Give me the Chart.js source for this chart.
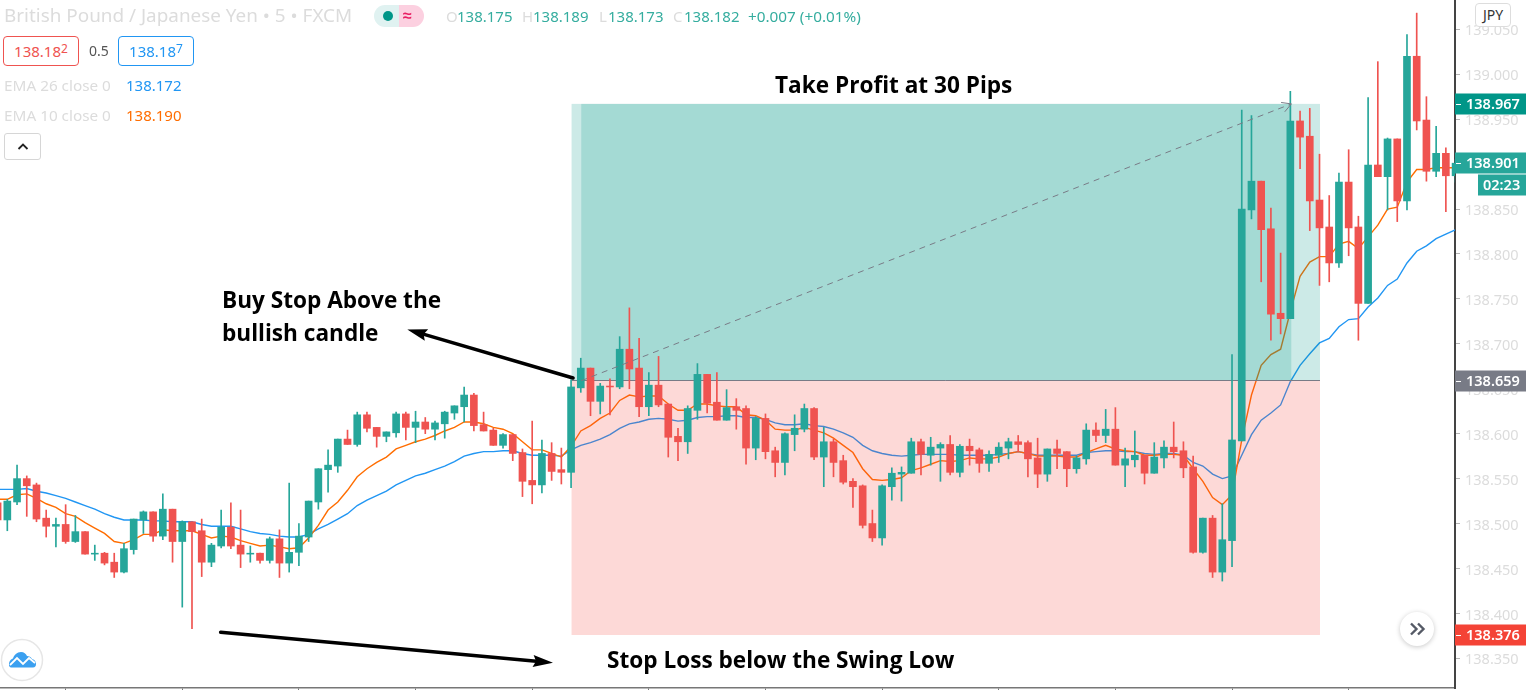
<!DOCTYPE html>
<html>
<head>
<meta charset="utf-8">
<script src="https://cdn.jsdelivr.net/npm/chart.js@4/dist/chart.umd.js"></script>
<style>
html,body{margin:0;padding:0;background:#fff;width:1526px;height:690px;overflow:hidden}
#wrap{position:relative;width:1526px;height:690px;font-family:"Noto Sans",sans-serif}
canvas{position:absolute;left:0;top:0}
.t{position:absolute;white-space:nowrap;line-height:1}
.box{position:absolute;box-sizing:border-box;background:#fff;border:1px solid;border-radius:4px;text-align:center;font-size:15px;height:30px;line-height:28px;width:76px;top:36px}
sup{font-size:12px;line-height:0;vertical-align:4px}
.note{position:absolute;white-space:nowrap;line-height:1;color:#000;font-family:"Open Sans",sans-serif;font-weight:700;font-size:22.6px}
.o{color:#35ad9f;top:9px;font-size:15px}
.l{color:#dcdcdc;top:9px;font-size:15px}
</style>
</head>
<body>
<div id="wrap">
<canvas id="c" width="1526" height="690"></canvas>

<div class="t" style="left:4px;top:6px;font-size:18.9px;color:#dcdcdc">British Pound / Japanese Yen • 5 • FXCM</div>
<div style="position:absolute;left:374px;top:5px;width:25px;height:22px;background:#e0f2f1;border-radius:11px 0 0 11px"></div>
<div style="position:absolute;left:399px;top:5px;width:25px;height:22px;background:#fcd0e0;border-radius:0 11px 11px 0"></div>
<div style="position:absolute;left:383px;top:11px;width:10px;height:10px;border-radius:50%;background:#009688"></div>
<div class="t" style="left:403px;top:7px;font-size:16px;color:#e91e63;font-weight:700">≈</div>
<div class="t l" style="left:446px">O</div><div class="t o" style="left:457px">138.175</div>
<div class="t l" style="left:522px">H</div><div class="t o" style="left:533px">138.189</div>
<div class="t l" style="left:599px">L</div><div class="t o" style="left:608px">138.173</div>
<div class="t l" style="left:673px">C</div><div class="t o" style="left:684px">138.182</div>
<div class="t o" style="left:748px;font-size:15.3px">+0.007 (+0.01%)</div>

<div class="box" style="left:3px;border-color:#ef5350;color:#ef5350">138.18<sup>2</sup></div>
<div class="t" style="left:89px;top:44px;font-size:14px;color:#555">0.5</div>
<div class="box" style="left:118px;border-color:#2196f3;color:#2196f3">138.18<sup>7</sup></div>

<div class="t" style="left:4px;top:78px;font-size:15.3px;color:#dcdcdc">EMA 26 close 0</div>
<div class="t" style="left:126px;top:78px;font-size:15px;color:#2196f3">138.172</div>
<div class="t" style="left:4px;top:108px;font-size:15.3px;color:#dcdcdc">EMA 10 close 0</div>
<div class="t" style="left:126px;top:108px;font-size:15px;color:#ff6d00">138.190</div>
<div style="position:absolute;box-sizing:border-box;left:4px;top:133px;width:37px;height:27px;border:1px solid #d6d6d6;border-radius:3px;background:#fff">
<svg width="35" height="25" style="position:absolute;left:0;top:0"><path d="M13.5 15 L18 10.5 L22.5 15" fill="none" stroke="#222" stroke-width="1.8"/></svg></div>

<div class="note" style="left:775px;top:74px">Take Profit at 30 Pips</div>
<div class="note" style="left:222px;top:289px">Buy Stop Above the</div>
<div class="note" style="left:222px;top:322px">bullish candle</div>
<div class="note" style="left:607px;top:649px">Stop Loss below the Swing Low</div>

<div class="t" style="left:1475px;top:3px;box-sizing:border-box;width:36px;height:24px;border:1px solid #ddd;border-radius:4px;background:#fff;text-align:center;font-size:14px;line-height:22px;color:#333">JPY</div>

<div style="position:absolute;left:1400px;top:612px;width:34px;height:34px;border-radius:50%;background:#fff;box-shadow:0 1px 5px rgba(0,0,0,.22)">
<svg width="34" height="34" style="position:absolute;left:0;top:0"><path d="M11 11.5 L16.5 17 L11 22.5 M18 11.5 L23.5 17 L18 22.5" fill="none" stroke="#555a66" stroke-width="2.4"/></svg></div>

<svg width="44" height="44" style="position:absolute;left:0;top:638px">
<circle cx="22" cy="22" r="20.5" fill="#fff" stroke="#e6e6e6" stroke-width="1.5"/>
<path d="M9 27 C9 23 11 21 13 20.5 C14 17 17 14 21 14 C24 14 26 16 27 18 C29 18 31 19 32 21 C35 21.5 36 24 36 26 C36 28 35 29.5 33 29.5 L11 29.5 C10 29.5 9 28.5 9 27 Z" fill="#3ba0f0"/>
<path d="M10 27 L17 20 L23 26 L29 20 L35 25" fill="none" stroke="#fff" stroke-width="1.8"/>
</svg>
</div>

<script>
const opens=[138.523,138.504,138.524,138.550,138.543,138.506,138.497,138.499,138.480,138.491,
138.466,138.467,138.457,138.446,138.471,138.504,138.513,138.486,138.516,138.480,
138.502,138.492,138.457,138.475,138.496,138.476,138.466,138.467,138.459,138.483,
138.456,138.468,138.485,138.524,138.560,138.564,138.594,138.588,138.621,138.607,
138.597,138.601,138.622,138.607,138.613,138.605,138.611,138.623,138.630,138.643,
138.610,138.604,138.587,138.599,138.579,138.548,138.543,138.578,138.560,138.557,
138.651,138.673,138.636,138.653,138.652,138.694,138.673,138.630,138.654,138.633,
138.597,138.591,138.626,138.666,138.635,138.615,138.630,138.628,138.584,138.617,
138.581,138.568,138.599,138.605,138.628,138.574,138.591,138.570,138.547,138.542,
138.500,138.484,138.541,138.555,138.556,138.591,138.576,138.584,138.588,138.557,
138.586,138.582,138.567,138.576,138.584,138.591,138.590,138.573,138.555,138.583,
138.580,138.561,138.572,138.604,138.598,138.605,138.565,138.571,138.576,138.556,
138.573,138.585,138.581,138.563,138.468,138.506,138.446,138.481,138.592,138.849,
138.881,138.828,138.734,138.728,138.948,138.931,138.860,138.830,138.790,138.880,
138.830,138.745,138.899,138.886,138.928,138.859,139.020,138.949,138.892,138.912,138.887];
const highs=[138.525,138.527,138.565,138.553,138.545,138.515,138.506,138.521,138.509,138.491,
138.476,138.468,138.467,138.478,138.505,138.514,138.513,138.533,138.516,138.503,
138.502,138.505,138.478,138.515,138.523,138.515,138.475,138.467,138.485,138.493,
138.545,138.500,138.525,138.561,138.582,138.594,138.604,138.624,138.624,138.607,
138.602,138.624,138.624,138.625,138.618,138.614,138.625,138.631,138.652,138.645,
138.624,138.606,138.600,138.599,138.583,138.614,138.593,138.590,138.584,138.660,
138.684,138.673,138.656,138.661,138.708,138.740,138.706,138.668,138.686,138.633,
138.606,138.631,138.678,138.666,138.668,138.649,138.639,138.631,138.619,138.622,
138.585,138.601,138.621,138.633,138.629,138.607,138.594,138.576,138.550,138.543,
138.515,138.543,138.562,138.563,138.595,138.594,138.596,138.590,138.598,138.588,
138.594,138.584,138.581,138.590,138.595,138.598,138.592,138.595,138.583,138.593,
138.580,138.575,138.611,138.612,138.627,138.629,138.584,138.603,138.576,138.590,
138.592,138.613,138.591,138.575,138.506,138.509,138.522,138.688,138.960,138.954,
138.881,138.851,138.801,138.981,138.959,138.962,138.911,138.865,138.890,138.916,
138.842,138.974,139.014,138.929,138.928,139.044,139.068,138.975,138.942,138.918,138.905];
const lows=[138.500,138.492,138.521,138.508,138.502,138.485,138.474,138.478,138.479,138.466,
138.459,138.454,138.440,138.445,138.466,138.489,138.480,138.482,138.457,138.407,
138.383,138.441,138.452,138.473,138.472,138.451,138.457,138.456,138.456,138.440,
138.446,138.453,138.480,138.516,138.535,138.557,138.588,138.586,138.602,138.585,
138.591,138.596,138.593,138.590,138.600,138.593,138.595,138.616,138.613,138.603,
138.603,138.587,138.584,138.570,138.530,138.522,138.534,138.548,138.544,138.540,
138.646,138.620,138.622,138.621,138.650,138.650,138.619,138.620,138.630,138.574,
138.570,138.578,138.616,138.623,138.615,138.615,138.605,138.566,138.571,138.572,
138.552,138.554,138.581,138.602,138.571,138.541,138.552,138.544,138.518,138.495,
138.480,138.476,138.526,138.525,138.556,138.554,138.565,138.547,138.554,138.552,
138.565,138.557,138.558,138.568,138.572,138.580,138.552,138.540,138.547,138.561,
138.541,138.556,138.566,138.591,138.590,138.565,138.541,138.563,138.544,138.556,
138.562,138.573,138.551,138.467,138.467,138.440,138.436,138.452,138.592,138.839,
138.769,138.704,138.711,138.728,138.895,138.826,138.765,138.769,138.785,138.798,
138.704,138.745,138.886,138.849,138.836,138.849,138.938,138.881,138.886,138.847,138.880];
const closes=[138.504,138.525,138.550,138.542,138.505,138.497,138.499,138.480,138.491,138.466,
138.467,138.456,138.446,138.472,138.505,138.513,138.486,138.516,138.480,138.502,
138.491,138.457,138.476,138.496,138.475,138.466,138.467,138.459,138.483,138.456,
138.468,138.486,138.525,138.561,138.565,138.594,138.588,138.621,138.606,138.597,
138.602,138.622,138.607,138.613,138.605,138.612,138.624,138.631,138.643,138.609,
138.603,138.587,138.599,138.578,138.547,138.543,138.578,138.558,138.557,138.652,
138.673,138.636,138.653,138.652,138.694,138.672,138.630,138.654,138.632,138.596,
138.591,138.628,138.666,138.634,138.615,138.629,138.626,138.584,138.617,138.580,
138.568,138.600,138.606,138.628,138.574,138.591,138.568,138.546,138.541,138.498,
138.484,138.542,138.556,138.557,138.591,138.577,138.585,138.588,138.557,138.586,
138.581,138.567,138.577,138.585,138.591,138.588,138.572,138.555,138.583,138.578,
138.561,138.573,138.604,138.598,138.605,138.565,138.572,138.576,138.556,138.574,
138.585,138.580,138.562,138.468,138.506,138.446,138.482,138.593,138.850,138.881,
138.827,138.733,138.728,138.948,138.930,138.859,138.829,138.790,138.880,138.829,
138.745,138.899,138.886,138.928,138.859,139.020,138.948,138.892,138.912,138.887,138.901];
const ema26=[138.538,138.538,138.538,138.539,138.536,138.534,138.531,138.528,138.524,138.520,
138.516,138.511,138.507,138.504,138.504,138.504,138.503,138.503,138.502,138.502,
138.502,138.499,138.497,138.497,138.497,138.494,138.491,138.489,138.488,138.486,
138.485,138.485,138.488,138.494,138.499,138.505,138.511,138.520,138.526,138.531,
138.536,138.543,138.548,138.553,138.556,138.560,138.564,138.569,138.575,138.578,
138.580,138.580,138.581,138.581,138.578,138.576,138.576,138.576,138.575,138.582,
138.587,138.590,138.594,138.599,138.606,138.611,138.613,138.616,138.617,138.616,
138.614,138.615,138.618,138.619,138.619,138.620,138.620,138.618,138.618,138.616,
138.612,138.610,138.610,138.611,138.609,138.608,138.605,138.601,138.596,138.587,
138.581,138.578,138.576,138.575,138.576,138.577,138.577,138.577,138.577,138.576,
138.576,138.576,138.576,138.577,138.578,138.580,138.578,138.576,138.576,138.576,
138.576,138.576,138.579,138.580,138.581,138.581,138.580,138.580,138.578,138.577,
138.578,138.578,138.576,138.568,138.564,138.555,138.550,138.553,138.576,138.599,
138.615,138.623,138.632,138.658,138.676,138.689,138.701,138.706,138.719,138.727,
138.728,138.741,138.751,138.765,138.772,138.790,138.803,138.809,138.817,138.822,138.827];
const ema10=[138.527,138.527,138.532,138.533,138.528,138.522,138.518,138.511,138.508,138.501,
138.495,138.489,138.480,138.478,138.482,138.488,138.488,138.493,138.492,138.492,
138.492,138.488,138.484,138.486,138.485,138.481,138.478,138.475,138.476,138.474,
138.472,138.473,138.484,138.498,138.515,138.524,138.537,138.552,138.561,138.568,
138.574,138.583,138.587,138.591,138.594,138.598,138.603,138.607,138.613,138.613,
138.611,138.607,138.605,138.600,138.591,138.582,138.582,138.578,138.574,138.586,
138.603,138.609,138.617,138.623,138.637,138.643,138.641,138.642,138.642,138.633,
138.626,138.626,138.633,138.633,138.631,138.630,138.630,138.621,138.620,138.615,
138.605,138.604,138.604,138.607,138.604,138.601,138.595,138.587,138.579,138.561,
138.549,138.548,138.549,138.551,138.559,138.562,138.566,138.570,138.569,138.570,
138.573,138.572,138.572,138.574,138.578,138.580,138.578,138.575,138.575,138.575,
138.574,138.574,138.579,138.583,138.587,138.583,138.581,138.580,138.576,138.576,
138.577,138.577,138.576,138.561,138.547,138.529,138.521,138.532,138.593,138.643,
138.676,138.688,138.694,138.736,138.775,138.791,138.797,138.797,138.811,138.814,
138.806,138.819,138.832,138.850,138.852,138.880,138.894,138.894,138.896,138.896,138.896];

const priceTicks=[138.35,138.40,138.45,138.50,138.55,138.60,138.65,138.70,138.75,138.80,138.85,138.90,138.95,139.00,139.05];
const hourTicks=[7,19,31,43,55,67,79,91,103,115,127,139];
const tagValues=[138.967,138.901,138.659,138.376];
const tagColors=['#009688','#26a69a','#787b86','#f44336'];
const countdown='02:23';
const entryPrice=138.659, targetPrice=138.967, stopPrice=138.376;
const zoneStart=59.05, zoneInnerStart=60.05, zoneInnerEnd=133.1, zoneEnd=136.05;
const buyArrow=[59.2,138.662,42.15,138.716];
const stopArrow=[22.95,138.379,57.14,138.345];

const GREEN='#26a69a', RED='#ef5350';
const candleIdx=opens.map((_,i)=>i);
const colors=candleIdx.map(i=>closes[i]>=opens[i]?GREEN:RED);

const overlay={
  id:'overlay',
  afterDatasetDraw(chart,args){
    if(args.index!==1) return;
    const {ctx,scales:{x,y}}=chart;
    const x0=x.getPixelForValue(zoneStart),x1=x.getPixelForValue(zoneInnerStart),
          x2=x.getPixelForValue(zoneInnerEnd),x3=x.getPixelForValue(zoneEnd),
          ye=y.getPixelForValue(entryPrice),yt=y.getPixelForValue(targetPrice),ys=y.getPixelForValue(stopPrice);
    ctx.save();
    ctx.fillStyle='rgba(0,150,136,0.2)';
    ctx.fillRect(x0,yt,x3-x0,ye-yt);
    ctx.fillRect(x1,yt,x2-x1,ye-yt);
    ctx.fillStyle='rgba(244,67,54,0.2)';
    ctx.fillRect(x0,ye,x3-x0,ys-ye);
    ctx.strokeStyle='#787b86';ctx.lineWidth=1;
    ctx.beginPath();ctx.moveTo(x0,Math.floor(ye)+.5);ctx.lineTo(x3,Math.floor(ye)+.5);ctx.stroke();
    ctx.restore();
  },
  afterDraw(chart){
    const {ctx,scales:{x,y}}=chart;
    ctx.save();
    const ax=x.getPixelForValue(zoneInnerStart),ay=y.getPixelForValue(entryPrice),
          bx=x.getPixelForValue(zoneInnerEnd),by=y.getPixelForValue(targetPrice);
    ctx.strokeStyle='#787b86';ctx.lineWidth=1;ctx.setLineDash([6,5]);
    ctx.beginPath();ctx.moveTo(ax,ay);ctx.lineTo(bx,by);ctx.stroke();
    ctx.setLineDash([]);
    let a=Math.atan2(by-ay,bx-ax);
    ctx.beginPath();
    ctx.moveTo(bx-9*Math.cos(a)+5*Math.sin(a),by-9*Math.sin(a)-5*Math.cos(a));
    ctx.lineTo(bx,by);
    ctx.lineTo(bx-9*Math.cos(a)-5*Math.sin(a),by-9*Math.sin(a)+5*Math.cos(a));
    ctx.stroke();
    [buyArrow,stopArrow].forEach(r=>{
      const fx=x.getPixelForValue(r[0]),fy=y.getPixelForValue(r[1]),tx=x.getPixelForValue(r[2]),ty=y.getPixelForValue(r[3]);
      const t=Math.atan2(ty-fy,tx-fx),c=Math.cos(t),s=Math.sin(t);
      ctx.strokeStyle='#000';ctx.fillStyle='#000';ctx.lineWidth=3.6;ctx.lineCap='round';
      ctx.beginPath();ctx.moveTo(fx,fy);ctx.lineTo(tx-14*c,ty-14*s);ctx.stroke();
      ctx.beginPath();ctx.moveTo(tx,ty);
      ctx.lineTo(tx-20*c+6*s,ty-20*s-6*c);
      ctx.lineTo(tx-17*c,ty-17*s);
      ctx.lineTo(tx-20*c-6*s,ty-20*s+6*c);
      ctx.closePath();ctx.fill();
    });
    ctx.textBaseline='middle';ctx.textAlign='left';
    ctx.font='600 14.5px "Noto Sans", sans-serif';
    const L=chart.chartArea.right;
    tagValues.forEach((v,i)=>{
      const yy=Math.round(y.getPixelForValue(v));
      ctx.fillStyle=tagColors[i];ctx.fillRect(L,yy-10.5,71,21);
      ctx.fillStyle='#fff';ctx.fillRect(L+1,yy,5,1);
      ctx.fillText(v.toFixed(3),1466,yy+1);
    });
    const yc=Math.round(y.getPixelForValue(tagValues[1]))+22;
    ctx.fillStyle='#26a69a';ctx.fillRect(1478,yc-10.5,48,21);
    ctx.fillStyle='#fff';ctx.fillText(countdown,1483,yc+1);
    ctx.restore();
  }
};

new Chart(document.getElementById('c'),{
  type:'bar',
  data:{datasets:[
    {type:'line',data:candleIdx.map(i=>({x:i,y:ema26[i]})),borderColor:'#2196f3',borderWidth:1.4,pointRadius:0,tension:0,order:5},
    {type:'line',data:candleIdx.map(i=>({x:i,y:ema10[i]})),borderColor:'#ff6d00',borderWidth:1.4,pointRadius:0,tension:0,order:4},
    {label:'wicks',data:candleIdx.map(i=>({x:i,y:[lows[i],highs[i]]})),backgroundColor:colors,barThickness:1,grouped:false,order:2},
    {label:'bodies',data:candleIdx.map(i=>({x:i,y:[Math.min(opens[i],closes[i]),Math.max(opens[i],closes[i])]})),backgroundColor:colors,barThickness:7,grouped:false,order:1}
  ]},
  options:{
    responsive:false,animation:false,devicePixelRatio:1,
    layout:{padding:0},
    plugins:{legend:{display:false},tooltip:{enabled:false},title:{display:false}},
    scales:{
      x:{type:'linear',min:0.247,max:149.94,offset:false,
        grid:{display:true,offset:false,drawOnChartArea:false,tickLength:2,color:'#777'},
        border:{color:'#777',width:1.5},
        ticks:{display:false},
        afterBuildTicks(s){s.ticks=hourTicks.map(v=>({value:v}));},
        afterFit(s){s.height=2;s.paddingLeft=0;s.paddingRight=0;}
      },
      y:{type:'linear',position:'right',min:138.3170,max:139.0826,
        grid:{display:true,drawOnChartArea:false,tickLength:5,color:'#b5b5b5'},
        border:{color:'#444',width:2},
        ticks:{color:'#dcdcdc',padding:5,labelOffset:2,font:{family:'"Noto Sans", sans-serif',size:14.5},
          autoSkip:false,maxRotation:0,callback:v=>v.toFixed(3)},
        afterBuildTicks(s){s.ticks=priceTicks.map(v=>({value:v}));},
        afterFit(s){s.width=71;s.paddingTop=0;s.paddingBottom=0;}
      }
    }
  },
  plugins:[overlay]
});
</script>
</body>
</html>
